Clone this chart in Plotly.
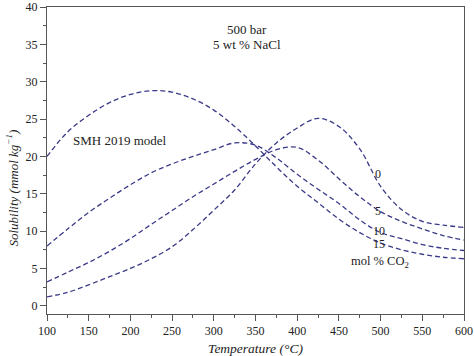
import plotly.graph_objects as go

temperature = [100, 125, 150, 175, 200, 225, 250, 275, 300, 325, 350,
               375, 400, 425, 450, 475, 500, 525, 550, 575, 600]
sol_co2_0 = [1.2, 1.8, 2.8, 3.9, 5.0, 6.3, 7.9, 10.2, 12.8, 15.5, 19.0,
             21.8, 23.8, 25.1, 24.0, 21.0, 16.0, 12.9, 11.3, 10.8, 10.5]
sol_co2_5 = [3.2, 4.5, 5.8, 7.3, 9.0, 10.9, 12.75, 14.6, 16.3, 18.0, 19.6,
             20.9, 21.2, 19.5, 17.0, 14.6, 12.6, 11.3, 10.3, 9.4, 8.8]
sol_co2_10 = [8.0, 10.3, 12.5, 14.4, 16.2, 17.8, 19.0, 20.0, 20.9, 21.8, 21.5,
              19.8, 17.6, 15.6, 13.7, 11.5, 9.8, 9.0, 8.2, 7.7, 7.4]
sol_co2_15 = [20.0, 23.3, 25.5, 27.2, 28.3, 28.8, 28.6, 27.7, 26.2, 24.0, 21.4,
              18.6, 16.0, 13.8, 11.6, 9.8, 8.4, 7.5, 6.9, 6.5, 6.3]
series = [("0", sol_co2_0), ("5", sol_co2_5), ("10", sol_co2_10), ("15", sol_co2_15)]
x_ticks = [100, 150, 200, 250, 300, 350, 400, 450, 500, 550, 600]
y_ticks = [0, 5, 10, 15, 20, 25, 30, 35, 40]

LINE = "#3a3a88"
TXT = "#222222"
AX = "#555555"
FONT = "Liberation Serif"

fig = go.Figure()
for name, vals in series:
    fig.add_trace(go.Scatter(x=temperature, y=vals, mode="lines", name=name,
                             line=dict(color=LINE, width=1.3, dash="5px,3px", shape="spline", smoothing=1.0),
                             showlegend=False))

ann = [
    dict(x=340, y=37.0, text="500 bar", size=13),
    dict(x=340, y=35.0, text="5 wt % NaCl", size=13),
    dict(x=188, y=22.1, text="SMH 2019 model", size=13),
    dict(x=496.5, y=17.7, text="0", size=12),
    dict(x=497, y=12.75, text="5", size=12),
    dict(x=498, y=10.0, text="10", size=12),
    dict(x=498, y=8.25, text="15", size=12),
    dict(x=499, y=5.85, text="mol % CO<sub>2</sub>", size=12.5),
]
annotations = [dict(xref="x", yref="y", showarrow=False,
                    font=dict(family=FONT, size=a["size"], color=TXT),
                    xanchor="center", yanchor="middle", x=a["x"], y=a["y"], text=a["text"])
               for a in ann]
annotations.append(dict(xref="paper", yref="paper", x=-0.083, y=0.41, textangle=-90,
                        text="<i>Solubility (mmol kg<sup>−1</sup>)</i>", showarrow=False,
                        xanchor="center", yanchor="middle",
                        font=dict(family=FONT, size=13, color=TXT)))

fig.update_layout(
    width=474, height=356,
    margin=dict(l=47, r=10, t=7, b=42, autoexpand=False),
    paper_bgcolor="white", plot_bgcolor="white",
    font=dict(family=FONT, color=TXT),
    annotations=annotations,
    xaxis=dict(range=[100, 600], tickvals=x_ticks, ticks="outside", ticklen=6, tickwidth=1,
               tickcolor=AX, showline=True, linecolor=AX, linewidth=1, mirror=True,
               showgrid=False, zeroline=False, automargin=False,
               minor=dict(dtick=25, ticks="outside", ticklen=3, tickcolor=AX),
               tickfont=dict(family=FONT, size=12, color=TXT),
               title=dict(text="<i>Temperature (°C)</i>", standoff=6,
                          font=dict(family=FONT, size=13.5, color=TXT))),
    yaxis=dict(range=[-1.1, 40], tickvals=y_ticks, ticks="outside", ticklen=6, tickwidth=1,
               tickcolor=AX, showline=True, linecolor=AX, linewidth=1, mirror=True,
               showgrid=False, zeroline=False, automargin=False,
               minor=dict(dtick=2.5, ticks="outside", ticklen=3, tickcolor=AX),
               tickfont=dict(family=FONT, size=12, color=TXT)),
)

fig.write_html("out.html", config={"displayModeBar": False},
               post_script="document.body.style.margin='0';")
